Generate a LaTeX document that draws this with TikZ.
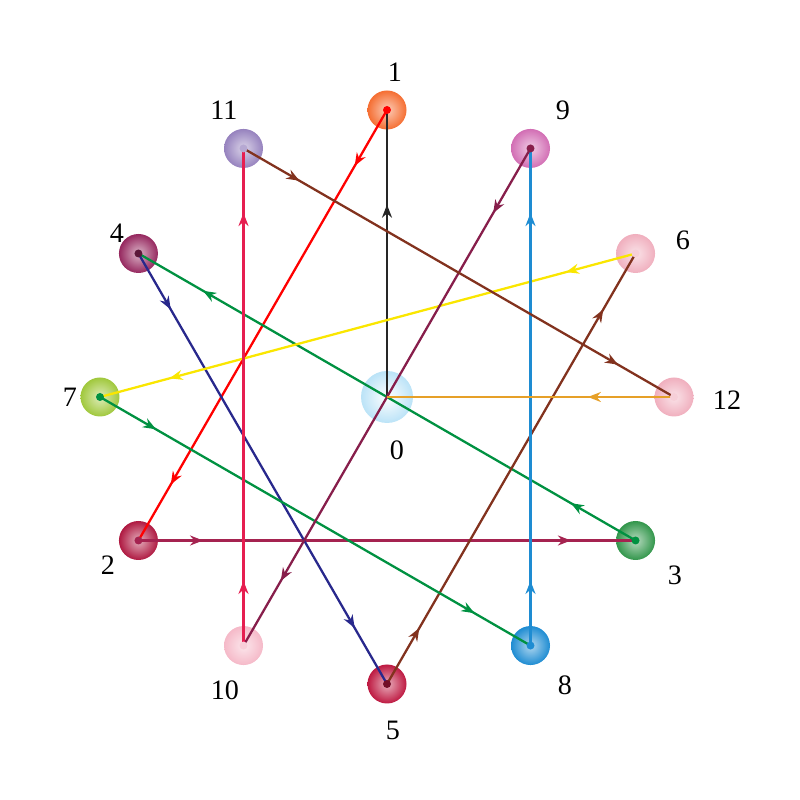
\documentclass[tikz,border=0pt]{standalone}
\usepackage{fontspec}
\setmainfont{Liberation Serif}
\usetikzlibrary{arrows.meta,decorations.markings}
% ball colours
\definecolor{ballzero}{RGB}{170,220,245}
\definecolor{ballone}{RGB}{245,110,50}
\definecolor{balltwo}{RGB}{175,25,65}
\definecolor{ballthree}{RGB}{50,150,75}
\definecolor{ballfour}{RGB}{150,40,95}
\definecolor{ballfive}{RGB}{190,25,65}
\definecolor{ballsix}{RGB}{240,175,190}
\definecolor{ballseven}{RGB}{160,200,60}
\definecolor{balleight}{RGB}{30,140,210}
\definecolor{ballnine}{RGB}{210,110,180}
\definecolor{ballten}{RGB}{245,185,200}
\definecolor{balleleven}{RGB}{150,130,190}
\definecolor{balltwelve}{RGB}{240,175,190}
% line colours
\definecolor{lineraspberry}{RGB}{165,35,80}
\definecolor{linegreen}{RGB}{0,145,65}
\definecolor{linenavy}{RGB}{40,40,140}
\definecolor{linebrown}{RGB}{130,50,30}
\definecolor{lineyellow}{RGB}{250,230,0}
\definecolor{lineblue}{RGB}{30,140,210}
\definecolor{linewine}{RGB}{135,30,75}
\definecolor{linecrimson}{RGB}{230,30,80}
\definecolor{lineorange}{RGB}{230,160,40}
\tikzset{
  smalltip/.tip={Stealth[length=1.3mm,width=1mm]},
  ballnode/.style={circle, minimum size=3.9mm, inner sep=0pt, draw=none},
  centerdot/.style={circle, fill, minimum size=0.8mm, inner sep=0pt},
  num/.style={font=\fontsize{8}{10}\selectfont, inner sep=0pt},
  twoarrows/.style={postaction={decorate}, decoration={markings,
      mark=at position 0.13 with {\arrow{smalltip}},
      mark=at position 0.87 with {\arrow{smalltip}}}},
  onearrow/.style={postaction={decorate}, decoration={markings,
      mark=at position #1 with {\arrow{smalltip}}}}
}
\begin{document}
\begin{tikzpicture}[line width=0.65pt]
    \useasboundingbox (-3.87,-4.03) rectangle (4.13,3.97);
    % balls
    \node[ballnode, minimum size=5.2mm, inner color=white, outer color=ballzero, opacity=0.8] (p0) at (0,0) {};
    \node[ballnode, inner color=ballone!35!white, outer color=ballone] (p1) at (90:2.87) {};
    \node[ballnode, inner color=ballnine!35!white, outer color=ballnine] (p9) at (60:2.87) {};
    \node[ballnode, inner color=ballsix!35!white, outer color=ballsix] (p6) at (30:2.87) {};
    \node[ballnode, inner color=balltwelve!35!white, outer color=balltwelve] (p12) at (0:2.87) {};
    \node[ballnode, inner color=ballthree!35!white, outer color=ballthree] (p3) at (-30:2.87) {};
    \node[ballnode, inner color=balleight!35!white, outer color=balleight] (p8) at (-60:2.87) {};
    \node[ballnode, inner color=ballfive!35!white, outer color=ballfive] (p5) at (-90:2.87) {};
    \node[ballnode, inner color=ballten!35!white, outer color=ballten] (p10) at (-120:2.87) {};
    \node[ballnode, inner color=balltwo!35!white, outer color=balltwo] (p2) at (-150:2.87) {};
    \node[ballnode, inner color=ballseven!35!white, outer color=ballseven] (p7) at (180:2.87) {};
    \node[ballnode, inner color=ballfour!35!white, outer color=ballfour] (p4) at (150:2.87) {};
    \node[ballnode, inner color=balleleven!35!white, outer color=balleleven] (p11) at (120:2.87) {};
    % path 0 -> 1 -> ... -> 12 -> 0
    \draw[black!85, onearrow=0.67] (p0.center) -- (p1.center);
    \draw[red, twoarrows] (p1.center) -- (p2.center);
    \draw[lineraspberry, twoarrows] (p2.center) -- (p3.center);
    \draw[linegreen, twoarrows] (p3.center) -- (p4.center);
    \draw[linenavy, twoarrows] (p4.center) -- (p5.center);
    \draw[linebrown, twoarrows] (p5.center) -- (p6.center);
    \draw[lineyellow, twoarrows] (p6.center) -- (p7.center);
    \draw[linegreen, twoarrows] (p7.center) -- (p8.center);
    \draw[lineblue, twoarrows] (p8.center) -- (p9.center);
    \draw[linewine, twoarrows] (p9.center) -- (p10.center);
    \draw[linecrimson, twoarrows] (p10.center) -- (p11.center);
    \draw[linebrown, twoarrows] (p11.center) -- (p12.center);
    \draw[lineorange, onearrow=0.3] (p12.center) -- (p0.center);
    % dots
    \node[centerdot, red] (d1) at (p1) {};
    \node[centerdot, lineraspberry] (d2) at (p2) {};
    \node[centerdot, linegreen] (d3) at (p3) {};
    \node[centerdot, ballfour!60!black] (d4) at (p4) {};
    \node[centerdot, ballfive!60!black] (d5) at (p5) {};
    \node[centerdot, linegreen] (d7) at (p7) {};
    \node[centerdot, lineblue] (d8) at (p8) {};
    \node[centerdot, linewine] (d9) at (p9) {};
    \node[centerdot, ballsix!60!white] (d6) at (p6) {};
    \node[centerdot, balltwelve!60!white] (d12) at (p12) {};
    \node[centerdot, ballten!70!white] (d10) at (p10) {};
    \node[centerdot, balleleven!70!white] (d11) at (p11) {};
    % labels
    \node[num] (l0) at (0.10,-0.53) {0};
    \node[num] (l1) at (0.08,3.25) {1};
    \node[num] (l2) at (-2.79,-1.68) {2};
    \node[num] (l3) at (2.88,-1.78) {3};
    \node[num] (l4) at (-2.70,1.64) {4};
    \node[num] (l5) at (0.06,-3.33) {5};
    \node[num] (l6) at (2.96,1.57) {6};
    \node[num] (l7) at (-3.17,0) {7};
    \node[num] (l8) at (1.78,-2.88) {8};
    \node[num] (l9) at (1.76,2.87) {9};
    \node[num] (l10) at (-1.62,-2.93) {10};
    \node[num] (l11) at (-1.63,2.87) {11};
    \node[num] (l12) at (3.40,-0.03) {12};
\end{tikzpicture}
\end{document}
